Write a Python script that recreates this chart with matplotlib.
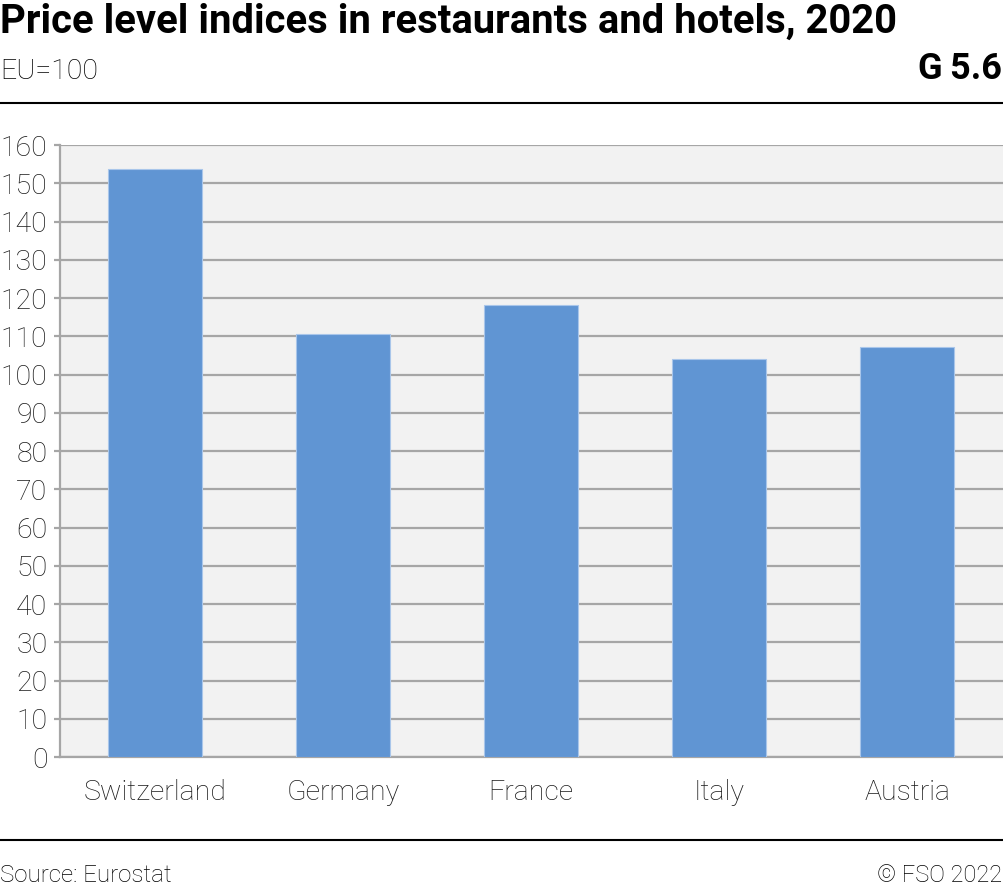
import matplotlib
matplotlib.use("Agg")
import matplotlib.pyplot as plt
from matplotlib.lines import Line2D

plt.rcParams['font.family'] = ['Roboto', 'DejaVu Sans']

# data
countries = ['Switzerland', 'Germany', 'France', 'Italy', 'Austria']
index_values = [153.8, 110.6, 118.1, 104.0, 107.3]
y_ticks = list(range(0, 161, 10))

W, H = 1004, 888
fig = plt.figure(figsize=(W / 100, H / 100), dpi=100)

def fy(py):
    return 1 - py / H

# plot area
ax = fig.add_axes([60 / W, (H - 757) / H, 944 / W, 612 / H])
ax.set_facecolor('#f2f2f2')
ax.bar(range(len(countries)), index_values, width=0.5, color='#6095d3',
       edgecolor='#a9c6ea', linewidth=0.8, zorder=3)
ax.set_xlim(-0.505, 4.515)
ax.set_ylim(0, 160)
ax.set_yticks(y_ticks)
ax.set_xticks(range(len(countries)))
ax.set_xticklabels(countries)
ax.yaxis.grid(True, color='#a6a6a6', linewidth=1.6, zorder=1)
ax.tick_params(axis='y', length=4, width=1.6, color='#a6a6a6', pad=5,
               labelsize=20.5, labelcolor='#1a1a1a')
ax.tick_params(axis='x', length=0, pad=16, labelsize=20.5, labelcolor='#1a1a1a')
for lab in ax.get_xticklabels() + ax.get_yticklabels():
    lab.set_fontweight('light')
for side in ['top', 'right']:
    ax.spines[side].set_visible(False)
for side in ['left', 'bottom']:
    ax.spines[side].set_color('#a6a6a6')
    ax.spines[side].set_linewidth(1.6)

# header
fig.text(0, fy(33), 'Price level indices in restaurants and hotels, 2020',
         fontsize=28.8, fontweight='bold', va='baseline', ha='left')
fig.text(0, fy(79), 'EU=100', fontsize=20.5, fontweight='light',
         va='baseline', ha='left')
fig.text(1002 / W, fy(79), 'G\u20095.6', fontsize=26, fontweight='bold',
         va='baseline', ha='right')
fig.add_artist(Line2D([0, 1], [fy(103), fy(103)], color='black', linewidth=1.5))

# footer
fig.add_artist(Line2D([0, 1], [fy(840), fy(840)], color='black', linewidth=1.5))
fig.text(0, fy(882), 'Source: Eurostat', fontsize=17.4, fontweight='light',
         va='baseline', ha='left')
fig.text(1002 / W, fy(882), '\u00a9 FSO 2022', fontsize=17, fontweight='light',
         va='baseline', ha='right')

fig.savefig('out.png', dpi=100)
